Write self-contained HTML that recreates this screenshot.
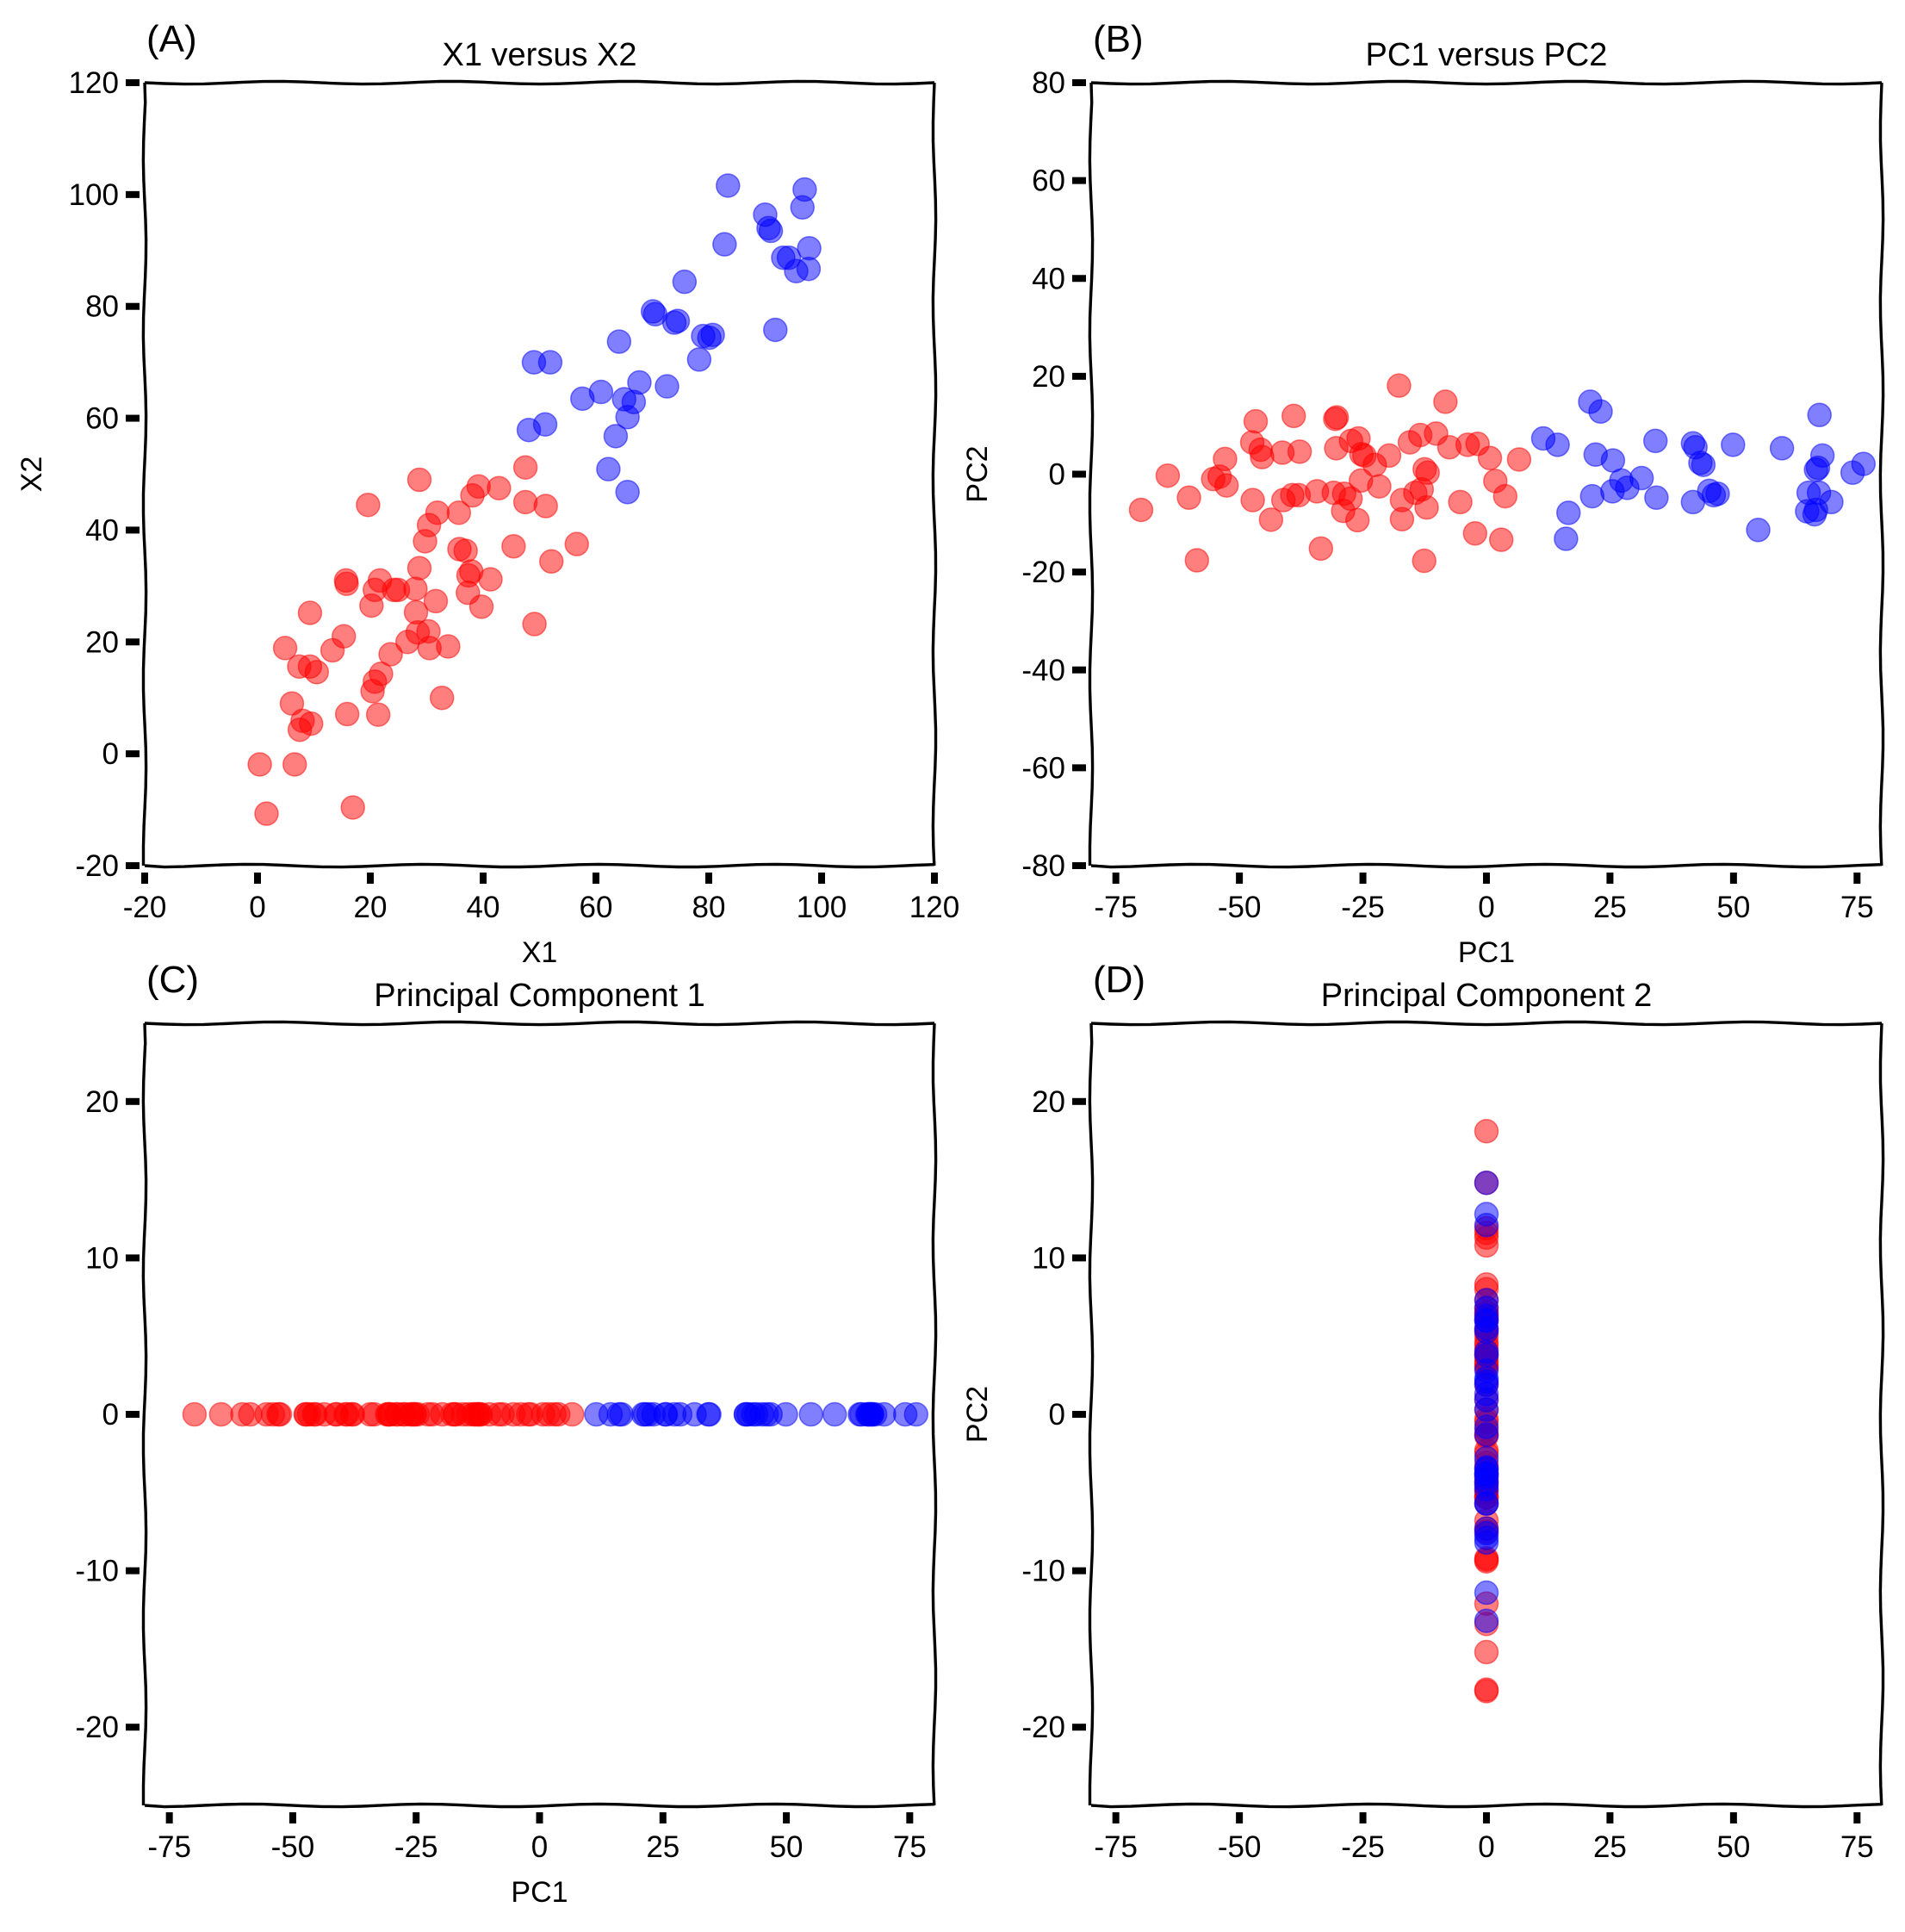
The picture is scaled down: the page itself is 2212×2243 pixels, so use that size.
<!DOCTYPE html>
<html><head><meta charset="utf-8">
<style>
html,body{margin:0;padding:0;background:#fff;}
svg{display:block;}
text{font-family:"Liberation Sans",sans-serif;fill:#000;}
</style></head>
<body>
<svg id="fig" width="2212" height="2243" viewBox="0 0 2212 2243" xmlns="http://www.w3.org/2000/svg"></svg>
<script>
// Panel A data (X1, X2)
const redX1 = [47.5,28.7,19.6,39.2,38.1,42.8,47.5,51.1,31.9,35.7,30.4,29.7,45.4,56.6,35.8,36.9,52.1,28.7,37.9,37.4,41.3,15.7,15.8,21.7,20.8,24.2,24.9,28.0,31.6,37.3,20.2,39.7,9.3,28.1,15.3,30.3,28.4,26.6,30.5,33.8,49.1,4.9,13.3,23.6,7.4,9.3,10.5,21.9,20.8,20.4,6.1,32.7,15.9,21.4,8.0,9.5,7.5,0.4,6.6,16.9,1.6];
const redX2 = [51.2,49,44.5,47.8,46.2,47.5,45,44.3,43.1,43.1,40.9,38,37.1,37.5,36.6,36.3,34.4,33.2,32.6,31.9,31.2,31,30.4,31,29.3,29.3,29.3,29.5,27.3,28.8,26.5,26.3,25.2,25.3,21,21.9,21.7,20,18.9,19.2,23.2,18.9,18.5,17.8,15.6,15.6,14.6,14.3,12.9,11.2,9,10,7.1,7,5.9,5.4,4.3,-1.9,-1.9,-9.6,-10.7];
const blueX1 = [83.4,90,97.0,96.6,90.6,91,82.8,97.8,94.2,93.2,95.5,97.7,75.7,70.1,70.5,73.9,74.5,91.8,79,80.7,80.1,78.3,64.1,49,51.9,67.7,72.6,57.6,60.9,65,66.7,65.6,48.1,51,63.5,62.2,65.6];
const blueX2 = [101.6,96.4,100.9,97.7,94.0,93.5,91.1,90.4,88.7,88.7,86.3,86.7,84.4,79.1,78.6,77.1,77.4,75.8,74.7,74.9,74.4,70.5,73.7,70,70,66.4,65.7,63.5,64.7,63.4,62.9,60.2,57.9,58.9,56.8,50.9,46.8];
// Panels B-D data (PC1, PC2)
const redPC1 = [-69.9,-64.5,-60.2,-58.6,-55.3,-54,-52.6,-52.9,-47.3,-46.7,-47.4,-45.7,-45.4,-43.6,-41.3,-39,-37.8,-41.1,-39.3,-38,-34.3,-33.5,-30.9,-30.6,-30.3,-30.4,-28.8,-29,-27.5,-27.4,-25.9,-25.3,-24.7,-26.1,-25.4,-22.6,-21.7,-19.7,-17.7,-15.5,-17.1,-17.1,-14.4,-13.4,-13.1,-12.5,-11.9,-12.1,-12.6,-10.2,-8.3,-7.5,-5.3,-3.8,-1.8,-2.3,0.7,1.8,3.8,3.0,6.6];
const redPC2 = [-7.3,-0.3,-4.8,-17.6,-1.0,-0.5,-2.3,3.1,-5.3,10.8,6.5,5.0,3.5,-9.3,4.4,11.9,4.6,-5.3,-4.3,-4.3,-3.5,-15.2,-3.8,11.3,11.6,5.3,-4.0,-7.5,-5,6.8,7.3,4.1,3.8,-9.4,-1.3,1.9,-2.5,3.8,18.1,6.5,-5.3,-9.2,-3.8,8.0,-3.1,1.0,0.3,-6.8,-17.7,8.3,14.8,5.5,-5.7,6.0,6.2,-12.1,3.3,-1.4,-4.5,-13.4,3.0];
const bluePC1 = [11.5,14.4,16.6,16.1,21,23.1,22.1,21.4,25.5,25.6,27.3,28.5,31.4,34.2,34.4,41.8,42.3,43.9,43.3,41.8,45.1,46,46.8,49.9,55,59.8,67.4,68,67.1,66.7,65.2,67.3,69.8,64.9,66.4,66.7,74.1,76.3];
const bluePC2 = [7.3,6.0,-7.9,-13.2,14.8,12.8,4.0,-4.5,-3.5,2.8,-1.3,-2.8,-0.8,6.8,-4.8,6.3,5.5,1.9,2.3,-5.7,-3.4,-4.3,-4.0,6.0,-11.4,5.3,12.1,3.8,1.3,0.9,-3.8,-3.8,-5.7,-7.6,-8.2,-7.3,0.3,2.1];
const ticksA = [-20,0,20,40,60,80,100,120];
const ticksBy = [-80,-60,-40,-20,0,20,40,60,80];
const ticksPC = [-75,-50,-25,0,25,50,75];
const ticksCD = [-20,-10,0,10,20];

const NS="http://www.w3.org/2000/svg";
const svg=document.getElementById('fig');
function mk(tag,attrs,parent){const e=document.createElementNS(NS,tag);for(const k in attrs)e.setAttribute(k,attrs[k]);(parent||svg).appendChild(e);return e;}
function txt(s,x,y,size,anchor,parent,rot){const t=mk('text',{x:x,y:y,'font-size':size,'text-anchor':anchor||'middle'},parent);if(rot)t.setAttribute('transform','rotate(-90 '+x+' '+y+')');t.textContent=s;return t;}
function wavy(x1,y1,x2,y2,phase){let d='M'+x1+' '+y1;const n=40;for(let i=1;i<=n;i++){const t=i/n;const off=1.6*Math.sin(t*Math.PI*9+phase);const x=x1+(x2-x1)*t+(x1===x2?off:0);const y=y1+(y2-y1)*t+(y1===y2?off:0);d+=' L'+x.toFixed(1)+' '+y.toFixed(1);}return d;}

function panel(cfg){
  const g=mk('g',{});
  
  
  const L=cfg.L,R=cfg.R,T=cfg.T,B=cfg.B;
  const sx=v=>L+(v-cfg.xmin)/(cfg.xmax-cfg.xmin)*(R-L);
  const sy=v=>B-(v-cfg.ymin)/(cfg.ymax-cfg.ymin)*(B-T);
  const pg=mk('g',{},g);
  
  
  cfg.series.forEach(s=>{
    for(let i=0;i<s.x.length;i++){
      const c=mk('circle',{cx:sx(s.x[i]),cy:sy(s.y[i]),r:13.5,fill:s.color,'fill-opacity':0.5,stroke:s.color,'stroke-opacity':0.5,'stroke-width':1.5},pg);
      
      
    }
  });
  const sp=mk('path',{d:wavy(L,T,R,T,0)+' '+wavy(L,B,R,B,1)+' '+wavy(L,T,L,B,2)+' '+wavy(R,T,R,B,3),fill:'none',stroke:'#000','stroke-width':3.4},g);
  
  
  cfg.xt.forEach(v=>{
    const x=sx(v);
    mk('rect',{x:x-4,y:B+8,width:8,height:13,fill:'#000'},g);
    const t=txt(String(v),x,B+60,35,'middle',g);
    
    
  });
  cfg.yt.forEach(v=>{
    const y=sy(v);
    mk('rect',{x:L-22,y:y-4,width:16,height:8,fill:'#000'},g);
    const t=txt(String(v),L-30,y+12,35,'end',g);
    
    
  });
  const ti=txt(cfg.title,(L+R)/2,T-20,38,'middle',g);
  
  
  const pl=txt(cfg.tag,L+2,T-36,44,'start',g);
  
  
  if(cfg.xlabel){const xl=txt(cfg.xlabel,(L+R)/2,B+112,34,'middle',g);
    
    }
  if(cfg.ylabel){const yl=txt(cfg.ylabel,cfg.ylx,(T+B)/2,34,'middle',g,true);
    
    }
}
const zeros=n=>new Array(n).fill(0);
panel({name:'panel-a-x1-vs-x2',L:168,R:1085,T:96,B:1005,xmin:-20,xmax:120,ymin:-20,ymax:120,xt:ticksA,yt:ticksA,
  title:'X1 versus X2',tag:'(A)',xlabel:'X1',ylabel:'X2',ylx:48,
  series:[{x:redX1,y:redX2,color:'#ff0000',label:'red'},{x:blueX1,y:blueX2,color:'#0000ff',label:'blue'}]});
panel({name:'panel-b-pc1-vs-pc2',L:1267,R:2185,T:96,B:1005,xmin:-80,xmax:80,ymin:-80,ymax:80,xt:ticksPC,yt:ticksBy,
  title:'PC1 versus PC2',tag:'(B)',xlabel:'PC1',ylabel:'PC2',ylx:1146,
  series:[{x:redPC1,y:redPC2,color:'#ff0000',label:'red'},{x:bluePC1,y:bluePC2,color:'#0000ff',label:'blue'}]});
panel({name:'panel-c-pc1',L:168,R:1085,T:1188,B:2096,xmin:-80,xmax:80,ymin:-25,ymax:25,xt:ticksPC,yt:ticksCD,
  title:'Principal Component 1',tag:'(C)',xlabel:'PC1',
  series:[{x:redPC1,y:zeros(redPC1.length),color:'#ff0000',label:'red'},{x:bluePC1,y:zeros(bluePC1.length),color:'#0000ff',label:'blue'}]});
panel({name:'panel-d-pc2',L:1267,R:2185,T:1188,B:2096,xmin:-80,xmax:80,ymin:-25,ymax:25,xt:ticksPC,yt:ticksCD,
  title:'Principal Component 2',tag:'(D)',ylabel:'PC2',ylx:1146,
  series:[{x:zeros(redPC2.length),y:redPC2,color:'#ff0000',label:'red'},{x:zeros(bluePC2.length),y:bluePC2,color:'#0000ff',label:'blue'}]});
</script>
</body></html>
